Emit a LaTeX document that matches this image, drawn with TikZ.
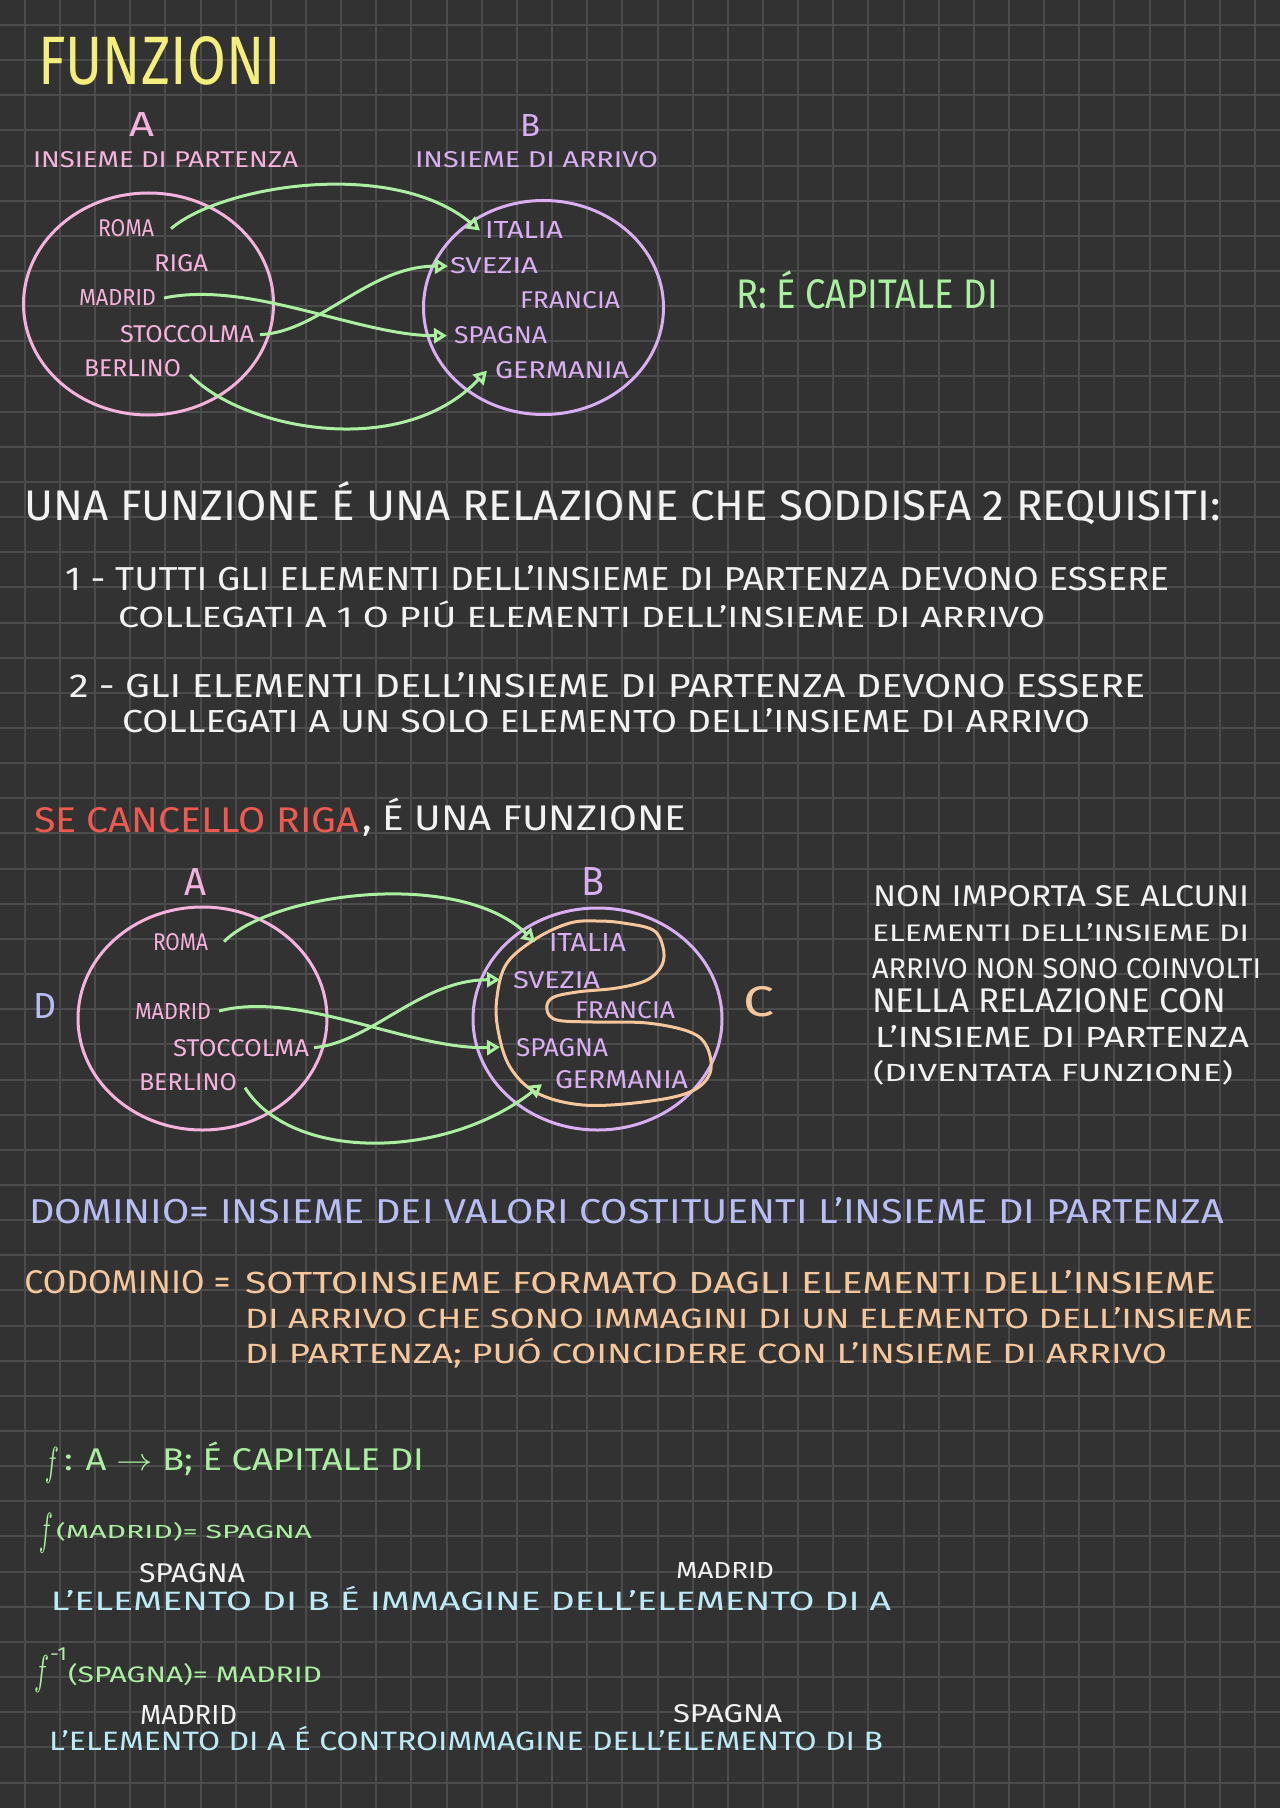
\documentclass[tikz,border=0pt]{standalone}
\usepackage{fontspec}
\setmainfont{Fira Sans}
\usepackage{graphicx}
\usetikzlibrary{arrows.meta,shapes.geometric}
\newlength\pxu \setlength\pxu{0.5pt}
\newcommand\hw[3]{\resizebox{#1\pxu}{#2\pxu}{\vphantom{E}#3}}
\newcommand\hwt[3]{\resizebox*{#1\pxu}{#2\pxu}{#3}}
\definecolor{bgc}{HTML}{323232}
\definecolor{gridc}{HTML}{4B4B4B}
\definecolor{yel}{HTML}{F4EE7C}
\definecolor{pinkc}{HTML}{F5B2DD}
\definecolor{lavc}{HTML}{D9AEF2}
\definecolor{grn}{HTML}{ABEFA0}
\definecolor{wht}{HTML}{F2F2F2}
\definecolor{redc}{HTML}{EE5A50}
\definecolor{orc}{HTML}{F7C79C}
\definecolor{bluc}{HTML}{B7BDF5}
\definecolor{cyc}{HTML}{BCEBF7}
\begin{document}
\begin{tikzpicture}[x=0.5pt,y=-0.5pt,
  txt/.style={anchor=base west,inner sep=0pt,outer sep=0pt},
  ftxt/.style={anchor=north west,inner sep=0pt,outer sep=0pt,text=grn},
  conn/.style={draw=grn,line width=1.5pt,-{Triangle[open,length=6.5pt,width=7.5pt]}},
  setshape/.style={ellipse,inner sep=0pt,line width=1.5pt}]
\useasboundingbox (0,0) rectangle (1280,1808);
\fill[bgc] (0,0) rectangle (1280,1808);
\foreach \i in {0,...,35} \draw[gridc,line width=1pt] ({24.8+35.15*\i},0) -- ++(0,1808);
\foreach \j in {0,...,50} \draw[gridc,line width=1pt] (0,{25+35.15*\j}) -- ++(1280,0);

% ---------- title and first diagram
\node[txt,text=yel] (title) at (38,85) {\hw{243}{48}{FUNZIONI}};
\node[txt,text=pinkc] (lblA) at (129,137) {\hw{25}{24}{A}};
\node[txt,text=pinkc] (partA) at (33,168) {\hw{265}{16}{INSIEME DI PARTENZA}};
\node[txt,text=lavc] (lblB) at (520,137) {\hw{20}{22}{B}};
\node[txt,text=lavc] (arrB) at (415,168) {\hw{243}{16}{INSIEME DI ARRIVO}};

\node[setshape,draw=pinkc,minimum width=125pt,minimum height=111pt] (setA1) at (148.5,304) {};
\node[setshape,draw=lavc,minimum width=120pt,minimum height=107pt] (setB1) at (543.5,307.5) {};

\node[txt,text=pinkc] (roma1) at (98,237) {\hw{56}{17}{ROMA}};
\node[txt,text=pinkc] (riga1) at (154,272) {\hw{54}{17}{RIGA}};
\node[txt,text=pinkc] (madrid1) at (79,306) {\hw{77}{16}{MADRID}};
\node[txt,text=pinkc] (stocc1) at (120,343) {\hw{134}{17}{STOCCOLMA}};
\node[txt,text=pinkc] (berl1) at (84,377) {\hw{97}{17}{BERLINO}};
\node[txt,text=lavc] (italia1) at (485,239) {\hw{78}{17}{ITALIA}};
\node[txt,text=lavc] (svezia1) at (450,274) {\hw{88}{16}{SVEZIA}};
\node[txt,text=lavc] (francia1) at (520,309) {\hw{100}{17}{FRANCIA}};
\node[txt,text=lavc] (spagna1) at (454,344) {\hw{93}{17}{SPAGNA}};
\node[txt,text=lavc] (germ1) at (495,379) {\hw{134}{17}{GERMANIA}};

\node[txt,text=grn] (rel) at (736,309) {\hw{262}{29}{R: \smash{É} CAPITALE DI}};

\draw[conn] ([xshift=8.5pt]roma1.east) .. controls (222,185) and (392,158) .. ([xshift=-2.5pt]italia1.west);
\draw[conn] ([xshift=4pt]madrid1.east) .. controls (250,280) and (360,336) .. ([xshift=-3.5pt]spagna1.west);
\draw[conn] ([xshift=3pt]stocc1.east) .. controls (320,332) and (368,266) .. ([xshift=-1pt]svezia1.west);
\draw[conn] ([xshift=4.5pt,yshift=-3pt]berl1.east) .. controls (240,428) and (400,462) .. ([xshift=-4pt]germ1.west);

% ---------- definition
\node[txt,text=wht] (def) at (24.5,520) {\hw{1196}{30}{UNA FUNZIONE \smash{É} UNA RELAZIONE CHE SODDISFA 2 REQUISITI:}};
\node[txt,text=wht] (req1a) at (65,590) {\hw{1104}{25}{1 - TUTTI GLI ELEMENTI DELL'INSIEME DI PARTENZA DEVONO ESSERE}};
\node[txt,text=wht] (req1b) at (118,627) {\hw{927}{22}{COLLEGATI A 1 O PI\smash{Ú} ELEMENTI DELL'INSIEME DI ARRIVO}};
\node[txt,text=wht] (req2a) at (69,697) {\hw{1076}{25}{2 - GLI ELEMENTI DELL'INSIEME DI PARTENZA DEVONO ESSERE}};
\node[txt,text=wht] (req2b) at (122,732) {\hw{968}{24}{COLLEGATI A UN SOLO ELEMENTO DELL'INSIEME DI ARRIVO}};

% ---------- second diagram
\node[txt,text=redc] (cancel) at (34,832) {\hw{325}{25}{SE CANCELLO RIGA}};
\node[txt,text=wht] (isfun) at (362,830) {\hw{324}{25}{, \smash{É} UNA FUNZIONE}};

\node[txt,text=pinkc] (lblA2) at (184,895) {\hw{22}{27}{A}};
\node[txt,text=lavc] (lblB2) at (581,895) {\hw{23}{28}{B}};
\node[setshape,draw=pinkc,minimum width=124.5pt,minimum height=111.5pt] (setA2) at (202.5,1018.5) {};
\node[setshape,draw=lavc,minimum width=124.5pt,minimum height=111pt] (setB2) at (597.5,1019) {};
\draw[orc,line width=1.5pt] plot[smooth cycle,tension=0.6] coordinates {(597,921) (570,923) (537,938) (507,963) (497,997) (498,1030) (510,1067) (537,1093) (583,1105) (643,1102) (690,1092) (710,1073) (707,1047) (690,1032) (647,1023) (593,1022) (557,1020) (547,1010) (552,998) (577,992) (617,988) (647,980) (662,965) (663,947) (653,930) (623,923)};

\node[txt,text=pinkc] (roma2) at (153,950) {\hw{55}{17}{ROMA}};
\node[txt,text=pinkc] (madrid2) at (135,1019) {\hw{76}{16}{MADRID}};
\node[txt,text=pinkc] (stocc2) at (173,1056) {\hw{136}{17}{STOCCOLMA}};
\node[txt,text=pinkc] (berl2) at (139,1090) {\hw{98}{17}{BERLINO}};
\node[txt,text=lavc] (italia2) at (549,951) {\hw{77}{18}{ITALIA}};
\node[txt,text=lavc] (svezia2) at (513,988) {\hw{87}{17}{SVEZIA}};
\node[txt,text=lavc] (francia2) at (575,1018) {\hw{100}{17}{FRANCIA}};
\node[txt,text=lavc] (spagna2) at (516,1056) {\hw{92}{18}{SPAGNA}};
\node[txt,text=lavc] (germ2) at (555,1088) {\hw{133}{18}{GERMANIA}};
\node[txt,text=bluc] (lblD) at (33,1018) {\hw{23}{25}{D}};
\node[txt,text=orc] (lblC) at (743,1016) {\hw{31}{30}{C}};

\draw[conn] ([xshift=8pt]roma2.east) .. controls (272,893) and (458,868) .. ([xshift=-7pt]italia2.west);
\draw[conn] ([xshift=4pt]madrid2.east) .. controls (300,990) and (410,1050) .. ([xshift=-8pt]spagna2.west);
\draw[conn] ([xshift=2.5pt]stocc2.east) .. controls (372,1042) and (420,980) .. ([xshift=-6.5pt]svezia2.west);
\draw[conn] ([xshift=4pt,yshift=-3pt]berl2.east) .. controls (292,1162) and (445,1160) .. ([xshift=-6.5pt,yshift=-2.5pt]germ2.west);

\node[txt,text=wht] (p1) at (873,906) {\hw{376}{21}{NON IMPORTA SE ALCUNI}};
\node[txt,text=wht] (p2) at (872,941) {\hw{377}{18}{ELEMENTI DELL'INSIEME DI}};
\node[txt,text=wht] (p3) at (872,978) {\hw{389}{20}{ARRIVO NON SONO COINVOLTI}};
\node[txt,text=wht] (p4) at (872,1012) {\hw{354}{24}{NELLA RELAZIONE CON}};
\node[txt,text=wht] (p5) at (875,1047) {\hw{374}{22}{L'INSIEME DI PARTENZA}};
\node[txt,text=wht] (p6) at (873,1081) {\hw{360}{21}{(DIVENTATA FUNZIONE)}};

% ---------- domain / codomain
\node[txt,text=bluc] (dom) at (29,1223) {\hw{1195}{26}{DOMINIO= INSIEME DEI VALORI COSTITUENTI L'INSIEME DI PARTENZA}};
\node[txt,text=orc] (cod) at (24.5,1293) {\hw{206}{23}{CODOMINIO =}};
\node[txt,text=orc] (cod1) at (245,1293) {\hw{971}{23}{SOTTOINSIEME FORMATO DAGLI ELEMENTI DELL'INSIEME}};
\node[txt,text=orc] (cod2) at (245,1328) {\hw{1008}{21}{DI ARRIVO CHE SONO IMMAGINI DI UN ELEMENTO DELL'INSIEME}};
\node[txt,text=orc] (cod3) at (245,1363) {\hw{922}{21}{DI PARTENZA; PU\smash{Ó} COINCIDERE CON L'INSIEME DI ARRIVO}};

% ---------- notation
\node[ftxt] (f1) at (45,1447) {\hwt{14}{36}{$f$}};
\node[txt,text=grn] (fdef) at (64,1470) {\hw{360}{22}{: A $\rightarrow$ B; \smash{É} CAPITALE DI}};
\node[ftxt] (f2) at (39,1513) {\hwt{14}{40}{$f$}};
\node[txt,text=grn] (fmad) at (56,1538) {\hw{256}{16}{(MADRID)= SPAGNA}};
\node[txt,text=wht] (sp1) at (139,1582) {\hw{106}{19}{SPAGNA}};
\node[txt,text=wht] (md1) at (676,1578) {\hw{98}{16}{MADRID}};
\node[txt,text=cyc] (im1) at (51,1610) {\hw{840}{20}{L'ELEMENTO DI B \smash{É} IMMAGINE DELL'ELEMENTO DI A}};
\node[ftxt] (f3) at (34,1656) {\hwt{15}{37}{$f$}};
\node[txt,text=grn] (finv) at (50,1660) {\hw{17}{13}{-1}};
\node[txt,text=grn] (fsp) at (68,1682) {\hw{254}{19}{(SPAGNA)= MADRID}};
\node[txt,text=wht] (md2) at (140,1724) {\hw{97}{19}{MADRID}};
\node[txt,text=wht] (sp2) at (673,1722) {\hw{109}{18}{SPAGNA}};
\node[txt,text=cyc] (im2) at (49,1750) {\hw{834}{20}{L'ELEMENTO DI A \smash{É} CONTROIMMAGINE DELL'ELEMENTO DI B}};
\end{tikzpicture}
\end{document}
